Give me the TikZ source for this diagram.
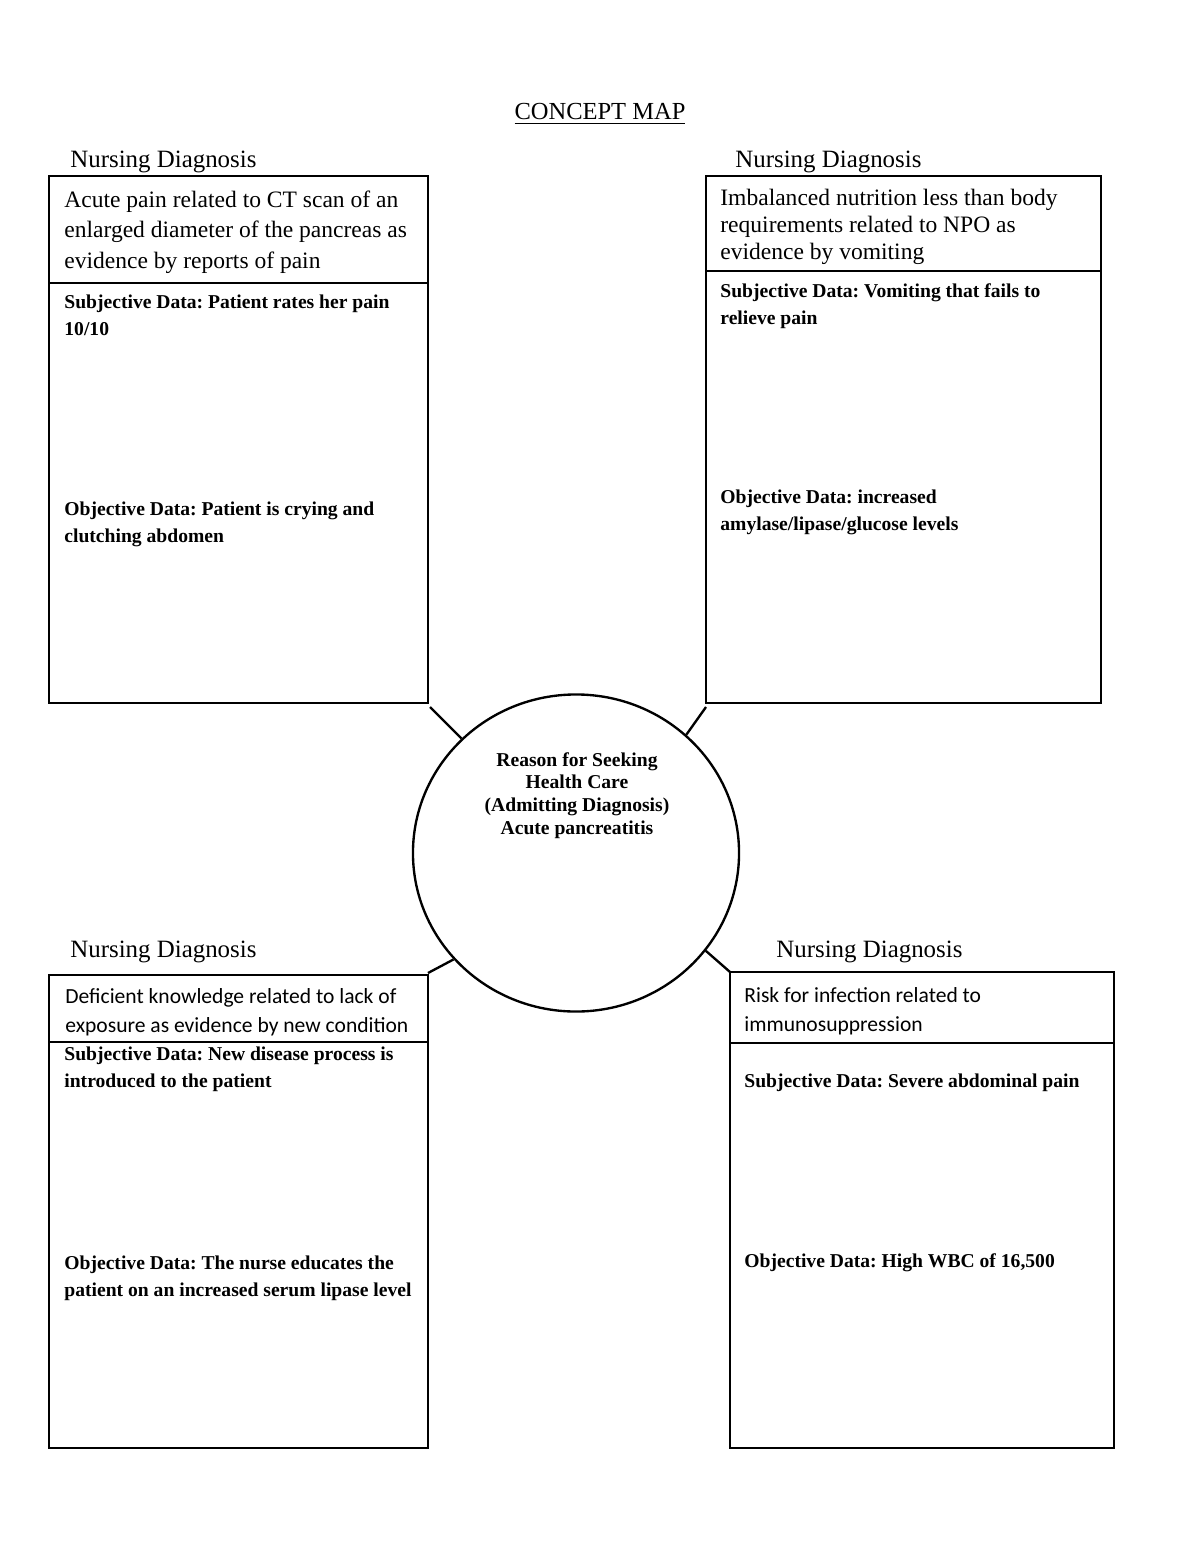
\documentclass[tikz,border=0pt]{standalone}
\usepackage{fontspec}
\setmainfont{Liberation Serif}
\newfontfamily\calibrisub{Carlito}
\usetikzlibrary{shapes.geometric}
\frenchspacing

\tikzset{
	heading/.style = {anchor = base west, inner sep = 0, font = \fontsize{12.7}{15}\selectfont},
	diagtext/.style = {anchor = base west, inner sep = 0, align = left},
	datatext/.style = {anchor = base west, inner sep = 0, align = left,
		font = \fontsize{10}{13.3}\selectfont\bfseries},
	sanstext/.style = {anchor = base west, inner sep = 0, align = left,
		font = \calibrisub\fontsize{11}{14.6}\selectfont},
	panel/.style = {line width = 1.2pt}
}

\begin{document}
\begin{tikzpicture}[x = 0.51pt, y = -0.51pt, line join = miter]

	% Page

	\useasboundingbox [fill = white] (0, 0) rectangle (1200, 1553);

	% Title

	\node [anchor = base, inner sep = 0, font = \fontsize{12.5}{15}\selectfont] (title) at (600, 120) {\underline{CONCEPT MAP}};

	% Reason for seeking health care (base = last line)

	\node [ellipse, draw, line width = 1.2pt, inner sep = 0,
		minimum width = 166.3pt, minimum height = 161.7pt] (hub) at (576, 853) {};
	\node [anchor = base, inner sep = 0, align = center,
		font = \fontsize{10}{11.5}\selectfont\bfseries] (reason) at (577, 834)
		{Reason for Seeking\\Health Care\\(Admitting Diagnosis)\\Acute pancreatitis};

	% Top left: acute pain

	\node [heading] (tlhead) at (70, 168) {Nursing Diagnosis};
	\draw [panel] (49, 176) rectangle (428, 703);
	\draw [panel] (49, 283) -- (428, 283);
	\node [diagtext, font = \fontsize{12}{15.5}\selectfont] (tldiag) at (64, 268)
		{Acute pain related to CT scan of an\\enlarged diameter of the pancreas as\\evidence by reports of pain};
	\node [datatext] (tlsub) at (64, 335) {Subjective Data: Patient rates her pain\\10/10};
	\node [datatext] (tlobj) at (64, 542) {Objective Data: Patient is crying and\\clutching abdomen};
	\coordinate (tlcorner) at (430, 707);

	% Top right: imbalanced nutrition

	\node [heading] (trhead) at (735, 168) {Nursing Diagnosis};
	\draw [panel] (706, 176) rectangle (1101, 703);
	\draw [panel] (706, 271) -- (1101, 271);
	\node [diagtext, font = \fontsize{12}{13.6}\selectfont] (trdiag) at (720, 259)
		{Imbalanced nutrition less than body\\requirements related to NPO as\\evidence by vomiting};
	\node [datatext] (trsub) at (720, 324) {Subjective Data: Vomiting that fails to\\relieve pain};
	\node [datatext] (trobj) at (720, 530) {Objective Data: increased\\amylase/lipase/glucose levels};
	\coordinate (trcorner) at (706, 707);

	% Bottom left: deficient knowledge

	\node [heading] (blhead) at (70, 957) {Nursing Diagnosis};
	\draw [panel] (49, 975) rectangle (428, 1448);
	\draw [panel] (49, 1042) -- (428, 1042);
	\node [sanstext] (bldiag) at (65, 1032)
		{Deficient knowledge related to lack of\\exposure as evidence by new condition};
	\node [datatext] (blsub) at (64, 1087) {Subjective Data: New disease process is\\introduced to the patient};
	\node [datatext] (blobj) at (64, 1296) {Objective Data: The nurse educates the\\patient on an increased serum lipase level};
	\coordinate (blcorner) at (428, 973);

	% Bottom right: risk for infection

	\node [heading] (brhead) at (776, 957) {Nursing Diagnosis};
	\draw [panel] (730, 972) rectangle (1114, 1448);
	\draw [panel] (730, 1043) -- (1114, 1043);
	\node [sanstext] (brdiag) at (744, 1031)
		{Risk for infection related to\\immunosuppression};
	\node [datatext] (brsub) at (744, 1087) {Subjective Data: Severe abdominal pain};
	\node [datatext] (brobj) at (744, 1267) {Objective Data: High WBC of 16,500};
	\coordinate (brcorner) at (730, 972);

	% Connectors

	\draw [panel] (tlcorner) -- (hub.135);
	\draw [panel] (trcorner) -- (hub.47);
	\draw [panel] (blcorner) -- (hub.221);
	\draw [panel] (brcorner) -- (hub.-37);

\end{tikzpicture}
\end{document}
